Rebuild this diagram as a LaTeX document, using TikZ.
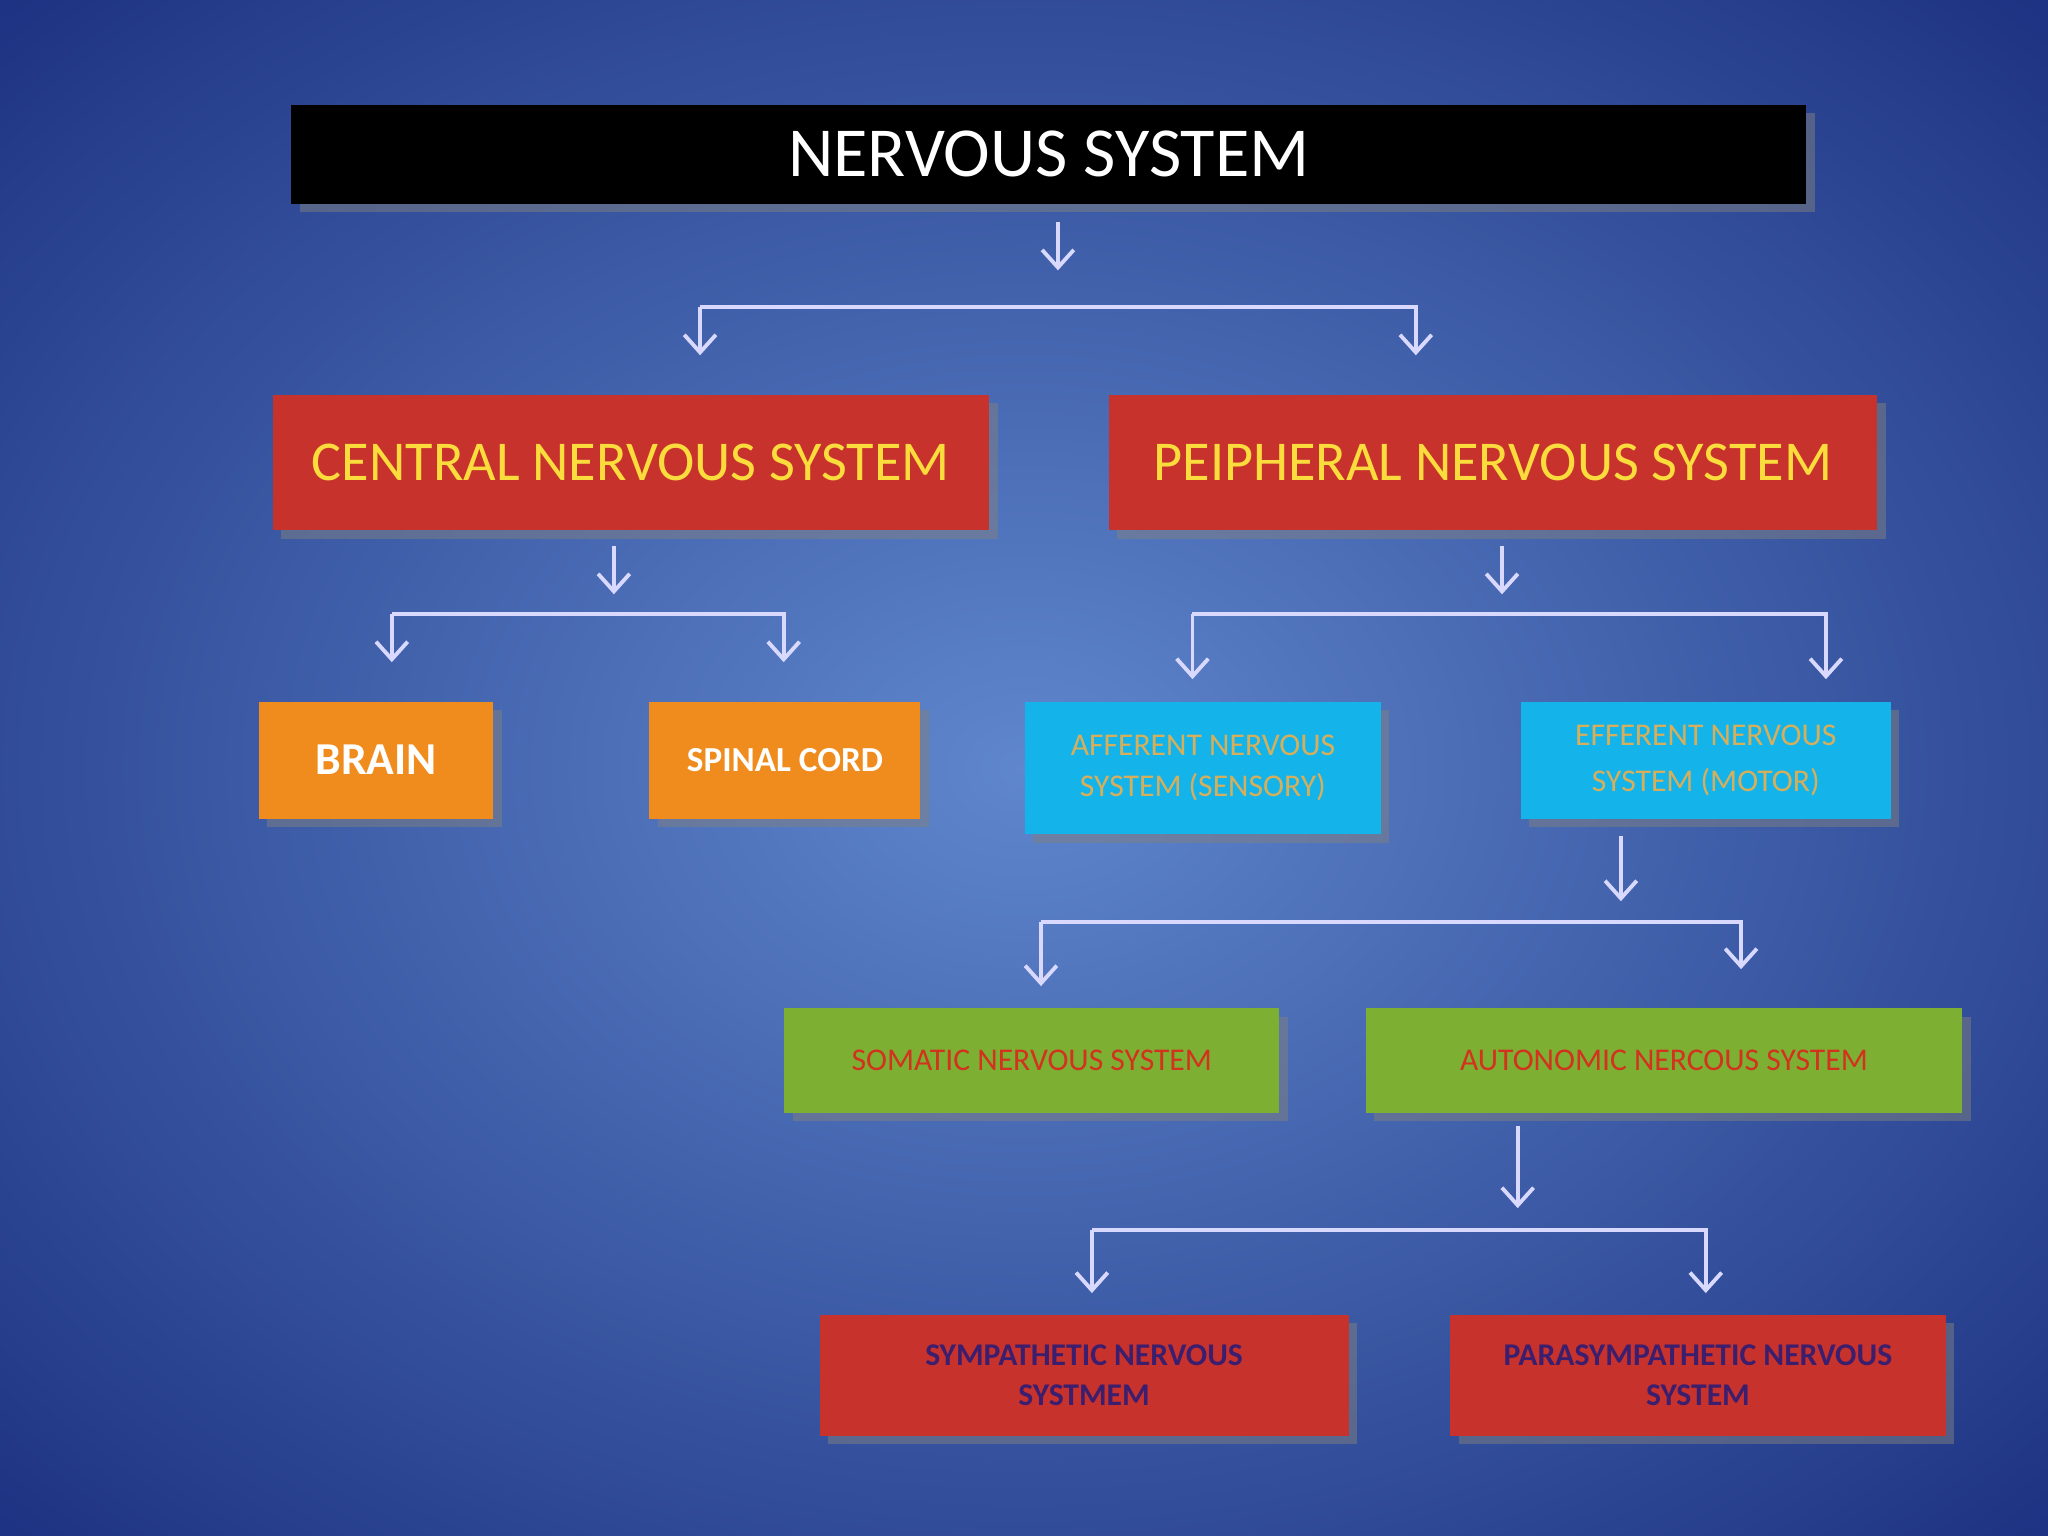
\documentclass[tikz,border=0pt]{standalone}
\usepackage{fontspec}
\setmainfont{Carlito}
\usetikzlibrary{shadows,arrows.meta}
\definecolor{bgin}{RGB}{95,135,205}
\definecolor{bgout}{RGB}{25,45,125}
\definecolor{boxred}{RGB}{200,50,45}
\definecolor{boxorange}{RGB}{240,140,30}
\definecolor{boxcyan}{RGB}{20,180,235}
\definecolor{boxgreen}{RGB}{125,175,50}
\definecolor{txtyellow}{RGB}{250,220,60}
\definecolor{txttan}{RGB}{215,175,90}
\definecolor{txtred}{RGB}{210,50,30}
\definecolor{txtpurple}{RGB}{60,30,110}
\begin{document}
\begin{tikzpicture}[x=0.01306cm,y=-0.01306cm,
  box/.style n args={2}{draw=none,drop shadow={opacity=0.5},align=center,inner sep=0pt,
    minimum width={#1*0.3707pt},minimum height={#2*0.3707pt}},
  link/.style={draw=white!85!blue,line width=1.1pt},
  arr/.style={link,-{Straight Barb[length=5pt,width=9pt]}}]
\useasboundingbox (0,0) rectangle (1568,1176);
\shade[inner color=bgin,outer color=bgout] (-400,-300) rectangle (1968,1476);
% boxes
\node[box={1163}{76},fill=black,text=white,font=\fontsize{20}{22}\selectfont] (ns) at (803,118) {NERVOUS SYSTEM};
\node[box={550}{104},fill=boxred,text=txtyellow,font=\fontsize{16}{18}\selectfont] (cns) at (483,354) {CENTRAL NERVOUS SYSTEM};
\node[box={590}{104},fill=boxred,text=txtyellow,font=\fontsize{16}{18}\selectfont] (pns) at (1143,354) {PEIPHERAL NERVOUS SYSTEM};
\node[box={180}{90},fill=boxorange,text=white,font=\bfseries\fontsize{13}{15}\selectfont] (brain) at (288,582) {BRAIN};
\node[box={208}{90},fill=boxorange,text=white,font=\bfseries\fontsize{10}{12}\selectfont] (spinal) at (601,582) {SPINAL CORD};
\node[box={273}{102},fill=boxcyan,text=txttan,font=\fontsize{9}{11.5}\selectfont] (aff) at (921,588) {AFFERENT NERVOUS\\SYSTEM (SENSORY)};
\node[box={284}{90},fill=boxcyan,text=txttan,font=\fontsize{9}{13}\selectfont] (eff) at (1306,582) {EFFERENT NERVOUS\\SYSTEM (MOTOR)};
\node[box={380}{80},fill=boxgreen,text=txtred,font=\fontsize{9}{10}\selectfont] (som) at (790,812) {SOMATIC NERVOUS SYSTEM};
\node[box={458}{80},fill=boxgreen,text=txtred,font=\fontsize{9}{10}\selectfont] (aut) at (1274,812) {AUTONOMIC NERCOUS SYSTEM};
\node[box={406}{93},fill=boxred,text=txtpurple,font=\bfseries\fontsize{9}{11.5}\selectfont] (sym) at (830,1053) {SYMPATHETIC NERVOUS\\SYSTMEM};
\node[box={380}{93},fill=boxred,text=txtpurple,font=\bfseries\fontsize{9}{11.5}\selectfont] (para) at (1300,1053) {PARASYMPATHETIC NERVOUS\\SYSTEM};
% connector coordinates
\coordinate (a0) at (810,170); \coordinate (a1) at (810,207);
\coordinate (b0) at (470,418); \coordinate (b1) at (470,455);
\coordinate (c0) at (1150,418); \coordinate (c1) at (1150,455);
\coordinate (d0) at (1241,640); \coordinate (d1) at (1241,690);
\coordinate (e0) at (1162,862); \coordinate (e1) at (1162,925);
% arrows and brackets
\draw[arr] (a0) -- (a1);
\draw[arr] (536,235) -- (1084,235) -- (1084,272);
\draw[arr] (536,235) -- (536,272);
\draw[arr] (b0) -- (b1);
\draw[arr] (300,470) -- (600,470) -- (600,507);
\draw[arr] (300,470) -- (300,507);
\draw[arr] (c0) -- (c1);
\draw[arr] (913,470) -- (1398,470) -- (1398,520);
\draw[arr] (913,470) -- (913,520);
\draw[arr] (d0) -- (d1);
\draw[arr] (797,706) -- (1333,706) -- (1333,742);
\draw[arr] (797,706) -- (797,755);
\draw[arr] (e0) -- (e1);
\draw[arr] (836,942) -- (1306,942) -- (1306,990);
\draw[arr] (836,942) -- (836,990);
\end{tikzpicture}
\end{document}
